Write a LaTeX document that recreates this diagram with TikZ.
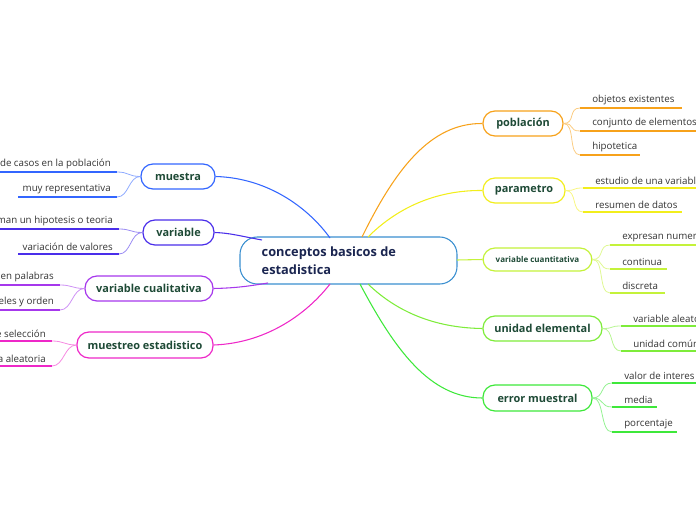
\documentclass[tikz,border=0pt]{standalone}
\usepackage{fontspec}
\setmainfont{Open Sans}
\definecolor{cblue}{HTML}{3A8FD0}
\definecolor{corange}{HTML}{F7A21B}
\definecolor{cyellow}{HTML}{F2EE1C}
\definecolor{clime}{HTML}{C4F23A}
\definecolor{cgreen}{HTML}{7EEC3A}
\definecolor{cgreen2}{HTML}{3EE83A}
\definecolor{cmblue}{HTML}{3366FF}
\definecolor{cindigo}{HTML}{4A2EEA}
\definecolor{cpurple}{HTML}{A638EC}
\definecolor{cmag}{HTML}{EE28C8}
\definecolor{tgreen}{HTML}{1E4A36}
\definecolor{tnavy}{HTML}{1A2550}
\definecolor{tgray}{HTML}{333333}
\tikzset{x=0.75pt,y=-0.75pt,
 br/.style={draw=#1,line width=0.9pt,rounded corners=9pt,fill=white,font=\bfseries\fontsize{8.2}{10}\selectfont,text=tgreen,inner sep=0pt},
 wh/.style n args={2}{minimum width=#1*0.75pt,minimum height=#2*0.75pt},
 lf/.style={font=\fontsize{7.3}{9}\selectfont,text=tgray,inner sep=1.5pt},
 thin/.style={draw=#1!55,line width=0.6pt},
 ul/.style={draw=#1,line width=1.3pt},
 cn/.style={draw=#1,line width=0.8pt}}
\newcommand\rleaf[7]{%
 \coordinate (#1s) at (#4,#6); \coordinate (#1e) at (#5,#6);
 \draw[thin=#2] (#3.east) .. controls ($(#3.east)+(12,0)$) and ($(#1s)+(-12,0)$) .. (#1s);
 \draw[ul=#2] (#1s) -- (#1e);
 \node[lf,anchor=south west] (#1t) at ($(#1s)+(10,-1)$) {#7};}
\newcommand\lleaf[7]{%
 \coordinate (#1s) at (#4,#6); \coordinate (#1e) at (#5,#6);
 \draw[thin=#2] (#3.west) .. controls ($(#3.west)+(-12,0)$) and ($(#1s)+(12,0)$) .. (#1s);
 \draw[ul=#2] (#1s) -- (#1e);
 \node[lf,anchor=south east] (#1t) at ($(#1s)+(-4,-1)$) {#7};}
\usetikzlibrary{calc}
\begin{document}
\begin{tikzpicture}
\useasboundingbox (0,0) rectangle (696,520);
\clip (0,0) rectangle (696,520);
\node[draw=cblue,line width=0.8pt,rounded corners=13pt,wh={217}{47},fill=white] (c) at (348.5,260.5) {};
\node[anchor=west,align=left,font=\bfseries\fontsize{9.6}{13.5}\selectfont,text=tnavy] (ct) at (257,261) {conceptos basicos de\\estadistica};
% right branches
\node[br=corange,wh={80}{25}] (pob) at (523,123.5) {población};
\node[br=cyellow,wh={82}{25}] (par) at (524,190.5) {parametro};
\node[br=clime,wh={109}{23},font=\bfseries\fontsize{6}{8}\selectfont] (vcu) at (537.5,259.5) {variable cuantitativa};
\node[br=cgreen,wh={119}{25}] (uni) at (542.5,328.5) {unidad elemental};
\node[br=cgreen2,wh={109}{26}] (err) at (537.5,398) {error muestral};
\draw[cn=corange] (362,237) .. controls (395,170) and (430,123) .. (pob.west);
\draw[cn=cyellow] (368,237) .. controls (400,205) and (440,190) .. (par.west);
\draw[cn=clime] (457,260) -- (vcu.west);
\draw[cn=cgreen] (368,284) .. controls (400,315) and (440,328) .. (uni.west);
\draw[cn=cgreen2] (360,284) .. controls (395,350) and (430,398) .. (err.west);
\rleaf{a1}{corange}{pob}{580}{682}{108}{objetos existentes}
\rleaf{a2}{corange}{pob}{580}{696}{131}{conjunto de elementos}
\rleaf{a3}{corange}{pob}{580}{640}{155}{hipotetica}
\rleaf{b1}{cyellow}{par}{583}{696}{188}{estudio de una variable}
\rleaf{b2}{cyellow}{par}{583}{682}{212}{resumen de datos}
\rleaf{d1}{clime}{vcu}{610}{696}{245}{expresan numericamente}
\rleaf{d2}{clime}{vcu}{610}{667}{269}{continua}
\rleaf{d3}{clime}{vcu}{610}{665}{293}{discreta}
\rleaf{e1}{cgreen}{uni}{621}{696}{326}{variable aleatoria}
\rleaf{e2}{cgreen}{uni}{621}{696}{351}{unidad común}
\rleaf{f1}{cgreen2}{err}{612}{696}{383}{valor de interes}
\rleaf{f2}{cgreen2}{err}{612}{657}{407}{media}
\rleaf{f3}{cgreen2}{err}{612}{677}{432}{porcentaje}
% left branches
\node[br=cmblue,wh={74}{25}] (mue) at (178,176.5) {muestra};
\node[br=cindigo,wh={71}{25}] (var) at (178.5,232.5) {variable};
\node[br=cpurple,wh={128}{25}] (vcl) at (149,288.5) {variable cualitativa};
\node[br=cmag,wh={136}{26}] (mst) at (145,345) {muestreo estadistico};
\draw[cn=cmblue] (mue.east) .. controls (270,178) and (310,210) .. (330,238);
\draw[cn=cindigo] (var.east) .. controls (230,233) and (240,236) .. (262,240);
\draw[cn=cpurple] (vcl.east) .. controls (240,288) and (255,285) .. (268,283);
\draw[cn=cmag] (mst.east) .. controls (270,343) and (310,310) .. (330,284);
\lleaf{g1}{cmblue}{mue}{117}{0}{172}{de casos en la población}
\lleaf{g2}{cmblue}{mue}{117}{18}{197}{muy representativa}
\lleaf{h1}{cindigo}{var}{119}{0}{229}{que forman un hipotesis o teoria}
\lleaf{h2}{cindigo}{var}{119}{18}{254}{variación de valores}
\lleaf{i1}{cpurple}{vcl}{60}{0}{285}{en palabras}
\lleaf{i2}{cpurple}{vcl}{60}{0}{310}{niveles y orden}
\lleaf{j1}{cmag}{mst}{52}{0}{341}{técnicas de selección}
\lleaf{j2}{cmag}{mst}{52}{0}{366}{muestra aleatoria}
\end{tikzpicture}
\end{document}
